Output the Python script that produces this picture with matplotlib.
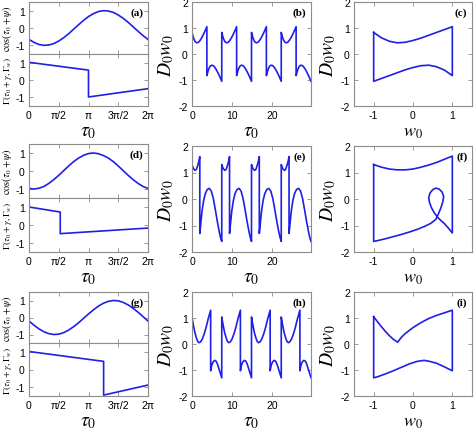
import matplotlib
matplotlib.use("Agg")
import matplotlib.pyplot as plt
import numpy as np

# ---- left column: one period in tau0 (0 .. 2pi)
tau_k = np.arange(25) * (2 * np.pi / 24)

cos_a = [-0.66, -0.83, -0.95, -1.00, -0.98, -0.90, -0.75, -0.56, -0.33, -0.07, 0.19, 0.44, 0.66,
         0.83, 0.95, 1.00, 0.98, 0.90, 0.75, 0.56, 0.33, 0.07, -0.19, -0.44, -0.66]
cos_d = [-0.97, -1.00, -0.96, -0.86, -0.69, -0.48, -0.24, 0.02, 0.28, 0.52, 0.72, 0.87, 0.97,
         1.00, 0.96, 0.86, 0.72, 0.52, 0.28, 0.02, -0.24, -0.48, -0.69, -0.86, -0.97]
cos_g = [-0.21, -0.45, -0.67, -0.84, -0.95, -1.00, -0.98, -0.89, -0.74, -0.54, -0.31, -0.05, 0.21,
         0.45, 0.67, 0.84, 0.95, 1.00, 0.98, 0.89, 0.74, 0.54, 0.31, 0.05, -0.21]

gam_a_t = [0, np.pi, np.pi, 2 * np.pi]
gam_a = [1.02, 0.57, -0.98, -0.50]
gam_d_t = [0, 1.65, 1.65, 2 * np.pi]
gam_d = [1.00, 0.72, -0.48, -0.17]
gam_g_t = [0, 3.94, 3.94, 2 * np.pi]
gam_g = [1.02, 0.46, -1.45, -0.88]

# ---- middle column: one period of D0w0, repeated 4 times
period = 7.4
b_t = [0, 0.4, 0.8, 1.2, 1.6, 2.0, 2.4, 2.8, 3.2, 3.7,
       3.7, 4.1, 4.5, 4.9, 5.3, 5.7, 6.1, 6.5, 6.9, 7.4]
b_d = [0.83, 0.60, 0.47, 0.43, 0.45, 0.52, 0.62, 0.74, 0.87, 1.05,
       -0.83, -0.60, -0.47, -0.43, -0.45, -0.52, -0.62, -0.74, -0.87, -1.05]
e_t = [0, 0.35, 0.75, 1.1, 1.45, 1.75, 1.94,
       1.94, 2.2, 2.5, 2.9, 3.3, 3.8, 4.3, 4.8, 5.3, 5.8, 6.3, 6.8, 7.1, 7.4]
e_d = [1.30, 1.15, 1.08, 1.12, 1.28, 1.45, 1.60,
       -1.30, -0.90, -0.45, -0.05, 0.20, 0.36, 0.40, 0.30, 0.02, -0.40, -0.85, -1.25, -1.45, -1.60]
h_t = [0, 0.35, 0.7, 1.06, 1.41, 1.77, 2.12, 2.59, 3.06, 3.53, 4.0, 4.64,
       4.64, 4.9, 5.2, 5.6, 6.0, 6.4, 6.9, 7.4]
h_d = [1.04, 0.72, 0.45, 0.25, 0.10, 0.05, 0.08, 0.20, 0.40, 0.65, 0.95, 1.30,
       -1.03, -0.82, -0.70, -0.63, -0.66, -0.80, -1.05, -1.30]

# ---- right column: phase portraits (w0, D0w0)
c_w = [-1, -0.8, -0.6, -0.4, -0.2, 0, 0.2, 0.4, 0.6, 0.8, 1,
       1, 0.8, 0.6, 0.4, 0.2, 0, -0.2, -0.4, -0.6, -0.8, -1, -1]
c_d = [0.83, 0.62, 0.49, 0.43, 0.45, 0.52, 0.61, 0.72, 0.83, 0.94, 1.05,
       -0.83, -0.62, -0.49, -0.43, -0.45, -0.52, -0.61, -0.72, -0.83, -0.94, -1.05, 0.83]
f_w = [-1, -0.8, -0.6, -0.4, -0.2, 0, 0.2, 0.4, 0.6, 0.8, 1,
       1.0, 0.9, 0.8, 0.7, 0.62, 0.54, 0.47, 0.42, 0.40, 0.43, 0.50, 0.58, 0.66, 0.74, 0.78,
       0.76, 0.71, 0.65, 0.58, 0.45, 0.30, 0.10, -0.10, -0.30, -0.50, -0.70, -0.90, -1.0, -1.0]
f_d = [1.30, 1.20, 1.13, 1.10, 1.10, 1.13, 1.20, 1.28, 1.38, 1.50, 1.62,
       -1.28, -1.10, -0.93, -0.80, -0.68, -0.52, -0.33, -0.13, 0.05, 0.22, 0.35, 0.41, 0.38, 0.26, 0.10,
       -0.10, -0.33, -0.55, -0.77, -0.92, -1.03, -1.15, -1.25, -1.34, -1.42, -1.50, -1.57, -1.60, 1.30]
i_w = [-1, -0.9, -0.8, -0.7, -0.6, -0.5, -0.39, -0.3, -0.2, 0, 0.2, 0.4, 0.6, 0.8, 1.0,
       1.0, 0.8, 0.6, 0.4, 0.28, 0.1, -0.1, -0.3, -0.5, -0.7, -0.9, -1.0, -1.0]
i_d = [1.05, 0.85, 0.66, 0.48, 0.32, 0.18, 0.07, 0.25, 0.40, 0.63, 0.82, 0.98, 1.10, 1.20, 1.30,
       -1.03, -0.88, -0.74, -0.66, -0.63, -0.67, -0.77, -0.90, -1.03, -1.15, -1.26, -1.30, 1.05]

pi_ticks = [0, np.pi / 2, np.pi, 3 * np.pi / 2, 2 * np.pi]
pi_labels = ["0", "π/2", "π", "3π/2", "2π"]

W, H = 474, 431
plt.rcParams['mathtext.fontset'] = 'stix'
plt.rcParams['axes.unicode_minus'] = False
plt.rcParams['font.family'] = ['Liberation Sans', 'DejaVu Sans']
fig = plt.figure(figsize=(W / 100, H / 100), dpi=100)

blue = "#1f1fe6"
lw = 1.2
frame = "#8c8c8c"
TICK = 7.5


def box(l, t, r, b):
  return [l / W, 1 - b / H, (r - l) / W, (b - t) / H]


def style(ax):
  for s in ax.spines.values():
    s.set_color(frame)
    s.set_linewidth(0.8)
  ax.tick_params(direction="in", top=True, right=True, length=3, width=0.6,
                 color=frame, labelsize=TICK, pad=3)


def tile(t, d):
  tt = np.concatenate([np.array(t) + k * period for k in range(4)])
  dd = np.concatenate([np.array(d) for k in range(4)])
  return tt, dd


rows = [
  dict(lt=3, ls=55, lb=107, t=3, b=107, cos=cos_a, gt=gam_a_t, g=gam_a, mt=b_t, md=b_d,
       pw=c_w, pd=c_d, labs=("(a)", "(b)", "(c)")),
  dict(lt=145, ls=199, lb=253, t=147, b=253, cos=cos_d, gt=gam_d_t, g=gam_d, mt=e_t, md=e_d,
       pw=f_w, pd=f_d, labs=("(d)", "(e)", "(f)")),
  dict(lt=293, ls=344, lb=397, t=293, b=397, cos=cos_g, gt=gam_g_t, g=gam_g, mt=h_t, md=h_d,
       pw=i_w, pd=i_d, labs=("(g)", "(h)", "(i)")),
]

tau_lab = r"$\tau_\mathit{0}$"

for r in rows:
  # left column, top: cos(tau0 + psi)
  ax1 = fig.add_axes(box(29, r["lt"], 148, r["ls"]))
  ax1.plot(tau_k, r["cos"], color=blue, lw=lw)
  ax1.set_xlim(0, 2 * np.pi)
  ax1.set_ylim(-1.5, 1.5)
  ax1.set_yticks([-1, 0, 1])
  ax1.set_xticks(pi_ticks)
  ax1.set_xticklabels([])
  style(ax1)
  ax1.set_ylabel(r"$\cos(\tau_\mathit{0}+\psi)$", fontsize=7.5, labelpad=1)
  ax1.text(0.96, 0.9, r["labs"][0], transform=ax1.transAxes, ha="right", va="top",
           fontsize=8, fontweight="bold", family="Liberation Serif")

  # left column, bottom: Gamma
  ax2 = fig.add_axes(box(29, r["ls"], 148, r["lb"]))
  ax2.plot(r["gt"], r["g"], color=blue, lw=lw)
  ax2.set_xlim(0, 2 * np.pi)
  ax2.set_ylim(-1.5, 1.5)
  ax2.set_yticks([-1, 0, 1])
  ax2.set_xticks(pi_ticks)
  ax2.set_xticklabels(pi_labels)
  style(ax2)
  ax2.set_ylabel(r"$\Gamma(\tau_\mathit{0}+\gamma,\Gamma_w)$", fontsize=6.8, labelpad=1)
  ax2.set_xlabel(tau_lab, fontsize=14, labelpad=2)

  # middle column: D0w0 vs tau0
  tt, dd = tile(r["mt"], r["md"])
  ax3 = fig.add_axes(box(192, r["t"], 311, r["b"]))
  ax3.plot(tt, dd, color=blue, lw=lw)
  ax3.set_xlim(0, 4 * period)
  ax3.set_ylim(-2, 2)
  ax3.set_xticks([0, 10, 20])
  ax3.set_yticks([-2, -1, 0, 1, 2])
  style(ax3)
  ax3.set_ylabel(r"$D_0w_0$", fontsize=14, labelpad=2)
  ax3.set_xlabel(tau_lab, fontsize=14, labelpad=2)
  ax3.text(0.96, 0.95, r["labs"][1], transform=ax3.transAxes, ha="right", va="top",
           fontsize=8, fontweight="bold", family="Liberation Serif")

  # right column: phase portrait
  ax4 = fig.add_axes(box(354, r["t"], 472, r["b"]))
  ax4.plot(r["pw"], r["pd"], color=blue, lw=lw)
  ax4.set_xlim(-1.5, 1.5)
  ax4.set_ylim(-2, 2)
  ax4.set_xticks([-1, 0, 1])
  ax4.set_yticks([-2, -1, 0, 1, 2])
  style(ax4)
  ax4.set_ylabel(r"$D_0w_0$", fontsize=14, labelpad=2)
  ax4.set_xlabel(r"$w_0$", fontsize=13, labelpad=2)
  ax4.text(0.96, 0.95, r["labs"][2], transform=ax4.transAxes, ha="right", va="top",
           fontsize=8, fontweight="bold", family="Liberation Serif")

plt.savefig("out.png", dpi=100)
